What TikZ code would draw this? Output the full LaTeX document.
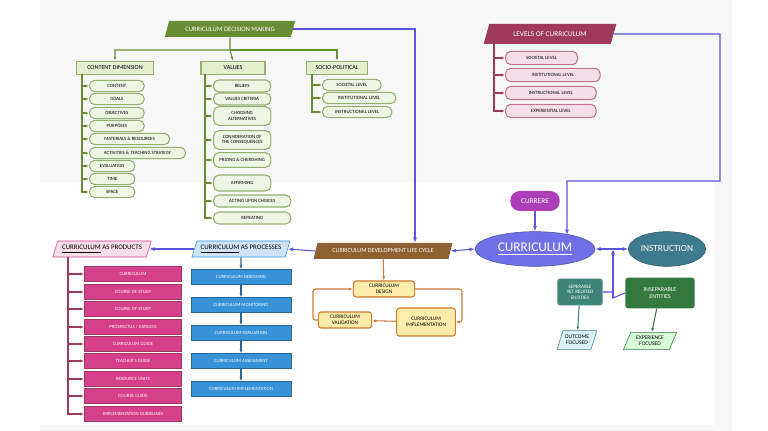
\documentclass[tikz,border=0pt]{standalone}
\usepackage{fontspec}
\setmainfont{Carlito}
\usetikzlibrary{shapes.geometric,arrows.meta}
\definecolor{dgreen}{RGB}{104,140,52}
\definecolor{lgreen}{RGB}{226,238,206}
\definecolor{wine}{RGB}{160,58,92}
\definecolor{lpink}{RGB}{246,222,232}
\definecolor{mag}{RGB}{214,64,138}
\definecolor{sblue}{RGB}{56,146,216}
\definecolor{lblue}{RGB}{206,228,246}
\definecolor{brown}{RGB}{142,98,48}
\definecolor{lyel}{RGB}{253,236,170}
\definecolor{orng}{RGB}{206,122,48}
\definecolor{link}{RGB}{92,84,220}
\definecolor{curr}{RGB}{112,112,232}
\definecolor{teal}{RGB}{62,122,142}
\definecolor{sep}{RGB}{62,132,120}
\definecolor{insep}{RGB}{52,122,62}
\definecolor{purp}{RGB}{172,62,184}
\tikzset{
  para/.style={trapezium,trapezium left angle=65,trapezium right angle=115,trapezium stretches=true,
    minimum height=12,inner sep=1pt,font=\fontsize{5}{6}\selectfont},
  pill/.style={rounded corners=4pt,draw=dgreen!70,fill=lgreen!60,thick,minimum height=8.5,inner sep=1pt,
    font=\fontsize{3.6}{4}\selectfont,align=center},
  lvl/.style={pill,draw=wine!70,fill=lpink},
  head/.style={draw=dgreen!70,fill=lgreen,thick,minimum height=10,inner sep=1pt,font=\fontsize{4.6}{5}\selectfont},
  prod/.style={draw=wine,fill=mag,text=white,minimum width=73,minimum height=11,inner sep=1pt,font=\fontsize{3.6}{4}\selectfont},
  proc/.style={draw=sblue!70!black,fill=sblue,text=white,minimum width=75,minimum height=11,inner sep=1pt,font=\fontsize{3.6}{4}\selectfont},
  cyc/.style={rounded corners=2pt,draw=orng,fill=lyel,thick,inner sep=1.5pt,align=center,font=\fontsize{4}{4.5}\selectfont},
  br/.style={-{Latex[length=3pt]},thick},
  lk/.style={-{Latex[length=4pt]},link,thick}
}
\begin{document}
\begin{tikzpicture}[x=0.75pt,y=-0.75pt]
\useasboundingbox (0,0) rectangle (768,431);
\fill[gray!6] (40,0) rectangle (732,431);
\fill[white] (40,182) rectangle (715,425);

% decision making
\node (cdm) [para,fill=dgreen,text=white,minimum width=98] at (230,29) {CURRICULUM DECISION MAKING};
\node (cd) [head,minimum width=58] at (115,68) {CONTENT DIMENSION};
\node (va) [head,minimum width=48] at (233,68) {VALUES};
\node (sp) [head,minimum width=46] at (337,68) {SOCIO-POLITICAL};
\coordinate (cdmj) at (230,50);
\draw[br,dgreen] (cdm.south) -- (cdmj) -| (cd.north);
\draw[br,dgreen] (cdmj) -- (va.north);
\draw[br,dgreen] (cdmj) -| (sp.north);

\coordinate (cdt) at (82,74);
\foreach \n/\y/\w/\t in {c1/86/41/CONTENT, c2/99/41/GOALS, c3/113/41/OBJECTIVES, c4/126/41/PURPOSES,
  c5/139/60/MATERIALS \& RESOURCES, c6/153/72/ACTIVITIES \& TEACHING STRATEGY, c7/166/34/EVALUATION,
  c8/179/34/TIME, c9/192/34/SPACE}{
  \node (\n) [pill,minimum width=\w,anchor=west] at (89,\y) {\t};
  \draw[br,dgreen] (cdt) |- (\n.west);
}
\coordinate (vat) at (205,74);
\foreach \n/\y/\w/\h/\t in {v1/86/43/9/BELIEFS, v2/99/43/9/VALUES CRITERIA, v3/116/43/14/CHOOSING\\ALTERNATIVES,
  v4/140/43/14/CONSIDERATION OF\\THE CONSEQUENCES, v5/160/43/11/PRIZING \& CHERISHING, v6/183/43/12/AFFIRMING,
  v7/201/58/9/ACTING UPON CHOICES, v8/218/58/9/REPEATING}{
  \node (\n) [pill,minimum width=\w,minimum height=\h,anchor=west] at (213,\y) {\t};
  \draw[br,dgreen] (vat) |- (\n.west);
}
\coordinate (spt) at (312,74);
\foreach \n/\y/\w/\t in {s1/85/44/SOCIETAL LEVEL, s2/98/55/INSTITUTIONAL LEVEL, s3/112/52/INSTRUCTIONAL LEVEL}{
  \node (\n) [pill,minimum width=\w,anchor=west] at (322,\y) {\t};
  \draw[br,dgreen] (spt) |- (\n.west);
}

% levels
\node (loc) [para,fill=wine,text=white,minimum width=100,minimum height=15,font=\fontsize{5.5}{6}\selectfont] at (550,34) {LEVELS OF CURRICULUM};
\coordinate (loct) at (494,44);
\foreach \n/\y/\w/\t in {l1/58/54/SOCIETAL LEVEL, l2/75/71/INSTITUTIONAL LEVEL, l3/93/68/INSTRUCTIONAL LEVEL, l4/111/68/EXPERIENTIAL LEVEL}{
  \node (\n) [lvl,minimum width=\w,minimum height=10,anchor=west] at (505,\y) {\t};
  \draw[br,wine] (loct) |- (\n.west);
}

% centre
\node (cur) [ellipse,draw=curr!70!black,fill=curr,text=white,minimum width=90,minimum height=26,inner sep=0pt,
  font=\fontsize{10}{12}\selectfont] at (535,249) {\underline{CURRICULUM}};
\node (ins) [ellipse,draw=teal!70!black,fill=teal,text=white,minimum width=58,minimum height=26,inner sep=0pt,
  font=\fontsize{7}{8}\selectfont] at (667,249) {INSTRUCTION};
\node (cre) [rounded corners=7pt,fill=purp,text=white,minimum width=37,minimum height=15,font=\fontsize{5.5}{7}\selectfont] at (535,201) {CURRERE};
\node (sre) [rounded corners=2pt,fill=sep,text=white,align=center,minimum width=34,minimum height=20,inner sep=1pt,
  font=\fontsize{3.8}{4.2}\selectfont] at (580,292) {SEPERABLE\\YET RELATED\\ENTITIES};
\node (ise) [rounded corners=2pt,fill=insep,text=white,align=center,minimum width=52,minimum height=23,inner sep=1pt,
  font=\fontsize{4.5}{5}\selectfont] at (660,293) {INSEPARABLE\\ENTITIES};
\node (ofc) [para,draw=sep,fill=cyan!15,align=center,minimum width=30,minimum height=14,font=\fontsize{4.2}{4.6}\selectfont] at (577,340) {OUTCOME\\FOCUSED};
\node (efc) [para,draw=insep,fill=green!15,align=center,minimum width=40,minimum height=13,font=\fontsize{4.2}{4.6}\selectfont] at (650,341) {EXPERIENCE\\FOCUSED};

\coordinate (jn) at (613,249);
\draw[lk,{Latex[length=4pt]}-{Latex[length=4pt]}] (cur) -- (ins);
\draw[lk] (cre) -- (cur);
\draw[link,thick] (sre.east) -| (613,298) -- (ise.west);
\draw[lk] (613,298) -- (jn);
\draw[br,sep] (sre) -- (ofc);
\draw[br,insep] (ise) -- (efc);
\draw[lk] (loc.east) -- (720,34) |- (567,181) -- (567,235);

% life cycle
\node (cdl) [para,fill=brown,text=white,minimum width=105,font=\fontsize{4.6}{5}\selectfont] at (383,251) {CURRICULUM DEVELOPMENT LIFE CYCLE};
\node (des) [cyc,minimum width=46,minimum height=12] at (384,289) {CURRICULUM\\DESIGN};
\node (val) [cyc,minimum width=40,minimum height=12] at (345,320) {CURRICULUM\\VALIDATION};
\node (imp) [cyc,minimum width=44,minimum height=21] at (426,322) {CURRICULUM\\IMPLEMENTATION};
\draw[lk,{Latex[length=4pt]}-{Latex[length=4pt]}] (cdl.east) -- (cur.west);
\draw[lk] (cdm.east) -- (415,29) -- (415,243);
\draw[br,orng] (cdl) -- (des);
\draw[br,orng,rounded corners=2pt] (des.east) -| (462,322) -- (imp.east);
\draw[br,orng] (imp) -- (val);
\draw[br,orng,rounded corners=2pt] (val.west) -| (313,289) -- (des.west);

% processes
\node (pro) [para,draw=sblue,fill=lblue,minimum width=74,font=\fontsize{5.2}{6}\selectfont] at (241,249) {\underline{CURRICULUM} AS PROCESSES};
\draw[lk] (cdl.west) -- (pro.east);
\foreach \n/\y/\t in {p1/277/CURRICULUM DESIGNING, p2/305/CURRICULUM MONITORING, p3/333/CURRICULUM EVALUATION,
  p4/361/CURRICULUM ASSESSMENT, p5/389/CURRICULUM IMPLEMENTATION}{
  \node (\n) [proc] at (241,\y) {\t};
}
\draw[br,sblue!70!black] (pro) -- (p1);
\foreach \a/\b in {p1/p2,p2/p3,p3/p4,p4/p5}{\draw[br,sblue!70!black] (\a) -- (\b);}

% products
\node (prd) [para,draw=mag,fill=lpink,minimum width=74,font=\fontsize{5.2}{6}\selectfont] at (102,249) {\underline{CURRICULUM} AS PRODUCTS};
\draw[lk] (pro.west) -- (prd.east);
\coordinate (prdt) at (68,257);
\foreach \n/\y/\t in {d1/274/CURRICULUM, d2/292/COURSE OF STUDY, d3/309/COURSE OF STUDY, d4/327/{PROSPECTUS / CATALOG},
  d5/344/CURRICULUM GUIDE, d6/361/TEACHER'S GUIDE, d7/379/RESOURCE UNITS, d8/396/COURSE GUIDE, d9/414/IMPLEMENTATION GUIDELINES}{
  \node (\n) [prod] at (133,\y) {\t};
  \draw[br,wine] (prdt) |- (\n.west);
}
\end{tikzpicture}
\end{document}
